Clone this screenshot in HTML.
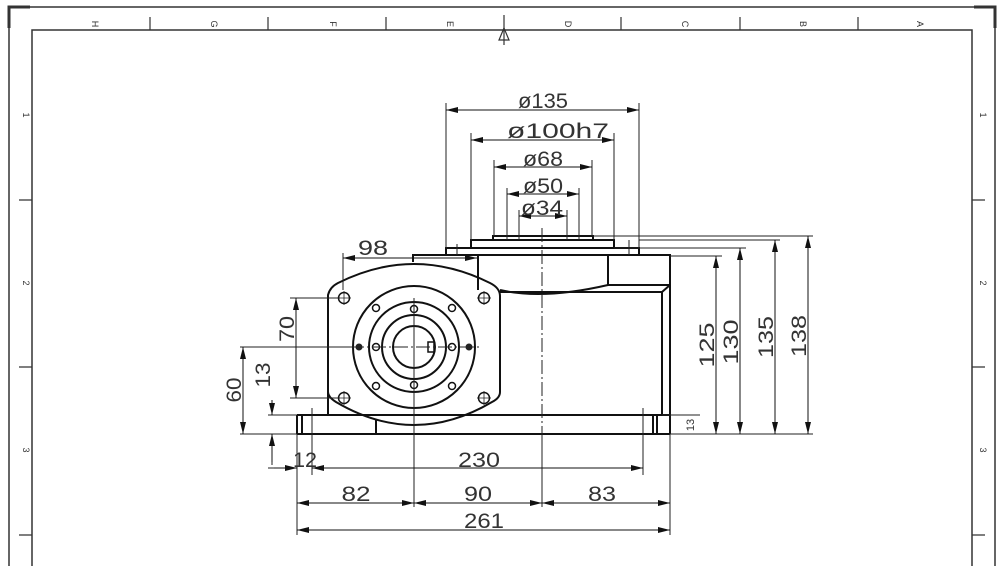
<!DOCTYPE html>
<html><head><meta charset="utf-8"><style>
html,body{margin:0;padding:0;background:#fff;}
svg{display:block;}
text{font-family:"Liberation Sans",sans-serif;fill:#333;}
</style></head><body>
<svg width="1000" height="566" viewBox="0 0 1000 566" xmlns="http://www.w3.org/2000/svg">
<defs>
<marker id="a" viewBox="0 0 12 6" refX="12" refY="3" markerWidth="12" markerHeight="6" orient="auto-start-reverse" markerUnits="userSpaceOnUse"><path d="M0,0 L12,3 L0,6 Z" fill="#111"/></marker>
</defs>
<rect width="1000" height="566" fill="#fff"/>
<g stroke="#333" fill="none">
<path d="M9,566 V7 H995 V566" stroke-width="1.5"/>
<path d="M9,28 V7 H30" stroke-width="3"/>
<path d="M995,28 V7 H974" stroke-width="3"/>
<path d="M32,566 V30 H972 V566" stroke-width="1.5"/>
<path d="M150,17 V30 M268,17 V30 M386,17 V30 M621,17 V30 M740,17 V30 M858,17 V30" stroke-width="1.2"/>
<path d="M19,200 H32 M19,367 H32 M19,535 H32 M972,200 H985 M972,367 H985 M972,535 H985" stroke-width="1.2"/>
<path d="M504,15 V45" stroke-width="1.2"/>
<path d="M504,28 L499,40 H509 Z" stroke-width="1.2"/>
</g>
<g font-size="9" text-anchor="middle">
<text transform="translate(92,24) rotate(90)">H</text>
<text transform="translate(211,24) rotate(90)">G</text>
<text transform="translate(330,24) rotate(90)">F</text>
<text transform="translate(447,24) rotate(90)">E</text>
<text transform="translate(565,24) rotate(90)">D</text>
<text transform="translate(682,24) rotate(90)">C</text>
<text transform="translate(800,24) rotate(90)">B</text>
<text transform="translate(917,24) rotate(90)">A</text>
<text transform="translate(23,115) rotate(90)">1</text>
<text transform="translate(23,283) rotate(90)">2</text>
<text transform="translate(23,450) rotate(90)">3</text>
<text transform="translate(980,115) rotate(90)">1</text>
<text transform="translate(980,283) rotate(90)">2</text>
<text transform="translate(980,450) rotate(90)">3</text>
</g>

<g stroke="#111" fill="none" stroke-width="2">
<rect x="493" y="236" width="100" height="4"/>
<rect x="471" y="240" width="143" height="8"/>
<rect x="446" y="248" width="193" height="7"/>
<path d="M413,262 V255 H670 V434"/>
<path d="M608,255 V285 H670"/>
<path d="M478,255 V290"/>
<path d="M500,292 H662 L670,285 M662,292 V415"/>
<path d="M500,290 Q543,300 608,285"/>
<path d="M328,415 V295 Q330,287 338,283 Q414,245 490,283 Q500,288 500,296 V392 Q500,398 492,402 Q414,448 336,402 Q328,397 328,392"/>
<path d="M297,415 H670 M297,434 H670 M297,415 V434 M302,415 V434 M657,415 V434 M653,415 V434 M376,420 V434"/>
<circle cx="414" cy="347" r="61"/>
<circle cx="414" cy="347" r="45"/>
<circle cx="414" cy="347" r="32"/>
<circle cx="414" cy="347" r="21"/>
<rect x="428" y="342" width="6" height="10" stroke-width="1.5"/>
</g>
<g stroke="#111" fill="none" stroke-width="1.5">
<circle cx="344" cy="298" r="5.5"/><circle cx="484" cy="298" r="5.5"/>
<circle cx="344" cy="398" r="5.5"/><circle cx="484" cy="398" r="5.5"/>
<circle cx="414" cy="309" r="3.5"/><circle cx="414" cy="385" r="3.5"/>
<circle cx="376" cy="347" r="3.5"/><circle cx="452" cy="347" r="3.5"/>
<circle cx="376" cy="308" r="3.5"/><circle cx="452" cy="308" r="3.5"/>
<circle cx="376" cy="386" r="3.5"/><circle cx="452" cy="386" r="3.5"/>
</g>
<g fill="#222"><circle cx="359" cy="347" r="3.5"/><circle cx="469" cy="347" r="3.5"/></g>
<g stroke="#222" stroke-width="0.8">
<path d="M337,298 H351 M344,291 V305 M477,298 H491 M484,291 V305 M337,398 H351 M344,391 V405 M477,398 H491 M484,391 V405"/>
</g>

<g stroke="#222" stroke-width="1" fill="none">
<path d="M542,228 V507" stroke-dasharray="14,3,2,3"/>
<path d="M414,298 V507"/>
<path d="M350,347 H480" stroke-dasharray="14,3,2,3"/>
</g>

<g stroke="#222" stroke-width="1" fill="none">
<path d="M446,103 V248 M639,103 V248 M471,133 V240 M614,133 V240 M494,160 V236 M592,160 V236 M507,188 V240 M579,188 V240 M519,210 V240 M567,210 V240"/>
<path d="M457,244 V255 M629,240 V255"/>
<path d="M670,256 H722 M614,248 H746 M639,240 H780 M593,236 H813 M670,434 H813 M662,415 H700"/>
<path d="M343,253 V290"/>
<path d="M290,298 H340 M290,398 H340 M240,347 H352 M240,434 H297 M268,415 H297"/>
<path d="M297,434 V535 M670,434 V535 M312,408 V475 M643,408 V475 M414,434 V507 M542,434 V507"/>
<path d="M272,400 V415 M272,434 V465"/>
<path d="M268,468 H297"/>
</g>
<g stroke="#111" stroke-width="1" fill="none" marker-start="url(#a)" marker-end="url(#a)">
<path d="M446,110 H639"/>
<path d="M471,140 H614"/>
<path d="M494,167 H592"/>
<path d="M507,194 H579"/>
<path d="M519,216 H567"/>
<path d="M716,256 V434"/>
<path d="M740,248 V434"/>
<path d="M775,240 V434"/>
<path d="M808,236 V434"/>
<path d="M296,298 V398"/>
<path d="M243,347 V434"/>
<path d="M343,258 H477"/>
<path d="M297,503 H414"/><path d="M414,503 H542"/><path d="M542,503 H670"/>
<path d="M297,530 H670"/>
</g>
<g stroke="#111" stroke-width="1" fill="none" marker-end="url(#a)">
<path d="M272,400 V415"/><path d="M272,462 V434"/>
<path d="M274,468 H297"/><path d="M330,468 H312"/>
<path d="M330,468 H643"/>
</g>

<g font-size="21" text-anchor="middle" lengthAdjust="spacingAndGlyphs">
<text x="543" y="108" textLength="50" lengthAdjust="spacingAndGlyphs">ø135</text>
<text x="558" y="138" textLength="102" lengthAdjust="spacingAndGlyphs">ø100h7</text>
<text x="543" y="166" textLength="40" lengthAdjust="spacingAndGlyphs">ø68</text>
<text x="543" y="193" textLength="40" lengthAdjust="spacingAndGlyphs">ø50</text>
<text x="542" y="215" textLength="42" lengthAdjust="spacingAndGlyphs">ø34</text>
<text x="373" y="255" textLength="30" lengthAdjust="spacingAndGlyphs">98</text>
<text x="479" y="467" textLength="42" lengthAdjust="spacingAndGlyphs">230</text>
<text x="305" y="467" textLength="24" lengthAdjust="spacingAndGlyphs">12</text>
<text x="356" y="501" textLength="29" lengthAdjust="spacingAndGlyphs">82</text>
<text x="478" y="501" textLength="28" lengthAdjust="spacingAndGlyphs">90</text>
<text x="602" y="501" textLength="28" lengthAdjust="spacingAndGlyphs">83</text>
<text x="484" y="528" textLength="40" lengthAdjust="spacingAndGlyphs">261</text>
<text transform="translate(714,345) rotate(-90)" textLength="45" lengthAdjust="spacingAndGlyphs">125</text>
<text transform="translate(738,342) rotate(-90)" textLength="45" lengthAdjust="spacingAndGlyphs">130</text>
<text transform="translate(773,337) rotate(-90)" textLength="42" lengthAdjust="spacingAndGlyphs">135</text>
<text transform="translate(806,336) rotate(-90)" textLength="42" lengthAdjust="spacingAndGlyphs">138</text>
<text transform="translate(294,329) rotate(-90)" textLength="26" lengthAdjust="spacingAndGlyphs">70</text>
<text transform="translate(270,375) rotate(-90)" textLength="25" lengthAdjust="spacingAndGlyphs">13</text>
<text transform="translate(241,390) rotate(-90)" textLength="25" lengthAdjust="spacingAndGlyphs">60</text>
</g>
<text font-size="11" text-anchor="middle" transform="translate(694,425) rotate(-90)">13</text>
</svg>
</body></html>
